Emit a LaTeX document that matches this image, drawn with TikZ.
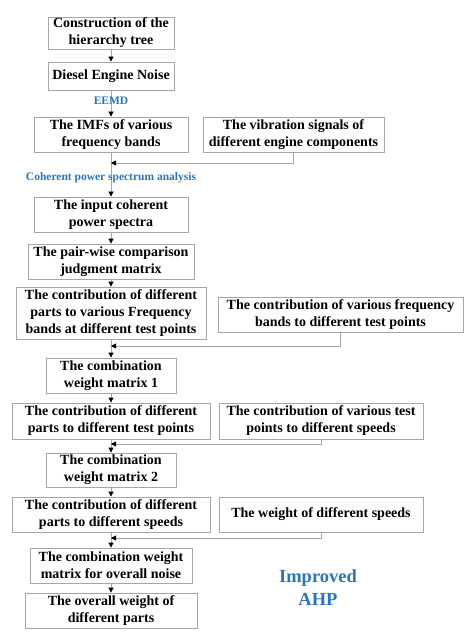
\documentclass[tikz,border=0pt]{standalone}
\usepackage{fontspec}
\setmainfont{Liberation Serif}
\usetikzlibrary{shapes,arrows.meta,positioning}
\definecolor{boxgray}{RGB}{166,166,166}
\definecolor{ahpblue}{RGB}{46,117,182}
\tikzset{
  stage/.style={draw=boxgray,line width=0.8pt,align=center,inner sep=0pt,
    font=\bfseries\fontsize{14}{17}\selectfont},
  flow/.style={draw=boxgray,line width=0.8pt,-{Triangle[black,width=5pt,length=5pt]}},
  join/.style={draw=boxgray,line width=0.8pt},
  steplabel/.style={text=ahpblue,font=\bfseries\fontsize{11.5}{13}\selectfont,inner sep=1pt}
}
\begin{document}
\begin{tikzpicture}[x=1pt,y=-1pt]
\useasboundingbox (0,0) rectangle (474,644);

% main column
\node[stage,minimum width=126pt,minimum height=32pt] (tree) at (111,33) {Construction of the\\hierarchy tree};
\node[stage,minimum width=126pt,minimum height=28pt] (noise) at (111,76) {Diesel Engine Noise};
\node[stage,minimum width=154pt,minimum height=35pt] (imfs) at (111,134.5) {The IMFs of various\\frequency bands};
\node[stage,minimum width=154pt,minimum height=35pt] (spectra) at (111,214.5) {The input coherent\\power spectra};
\node[stage,minimum width=166pt,minimum height=35pt] (pairwise) at (111,261.5) {The pair-wise comparison\\judgment matrix};
\node[stage,minimum width=190pt,minimum height=52pt] (partsband) at (111,313) {The contribution of different\\parts to various Frequency\\bands at different test points};
\node[stage,minimum width=130pt,minimum height=35pt] (comb1) at (111,375.5) {The combination\\weight matrix 1};
\node[stage,minimum width=198pt,minimum height=36pt] (partspoint) at (111,421) {The contribution of different\\parts to different test points};
\node[stage,minimum width=130pt,minimum height=34pt] (comb2) at (111,470) {The combination\\weight matrix 2};
\node[stage,minimum width=198pt,minimum height=35pt] (partsspeed) at (111,514.5) {The contribution of different\\parts to different speeds};
\node[stage,minimum width=162pt,minimum height=35pt] (combnoise) at (111,565.5) {The combination weight\\matrix for overall noise};
\node[stage,minimum width=172pt,minimum height=35pt] (overall) at (111,610.5) {The overall weight of\\different parts};

% side column
\node[stage,minimum width=181pt,minimum height=35pt] (vibration) at (293.5,134.5) {The vibration signals of\\different engine components};
\node[stage,minimum width=245pt,minimum height=35pt] (bandpoint) at (340.5,314.5) {The contribution of various frequency\\bands to different test points};
\node[stage,minimum width=204pt,minimum height=36pt] (pointspeed) at (321,421) {The contribution of various test\\points to different speeds};
\node[stage,minimum width=204pt,minimum height=35pt] (speedweight) at (321,514.5) {The weight of different speeds};

\node[text=ahpblue,align=center,font=\bfseries\fontsize{18.5}{23}\selectfont] (ahp) at (318,588) {Improved\\AHP};

% joining points on the main line
\coordinate (j1) at (111,163);
\coordinate (j2) at (111,346);
\coordinate (j3) at (111,444);
\coordinate (j4) at (111,538);

% main flow
\draw[flow] (tree) -- (noise);
\draw[flow] (noise) -- (imfs) node[steplabel,pos=0.4] (eemd) {EEMD};
\draw[flow] (imfs) -- (spectra) node[steplabel,pos=0.57] (cpsa) {Coherent power spectrum analysis};
\draw[flow] (spectra) -- (pairwise);
\draw[flow] (pairwise) -- (partsband);
\draw[flow] (partsband) -- (comb1);
\draw[flow] (comb1) -- (partspoint);
\draw[flow] (partspoint) -- (comb2);
\draw[flow] (comb2) -- (partsspeed);
\draw[flow] (partsspeed) -- (combnoise);
\draw[flow] (combnoise) -- (overall);

% side inputs
\draw[flow] (vibration.south) |- (j1);
\draw[flow] (bandpoint.south) |- (j2);
\draw[flow] (pointspeed.south) |- (j3);
\draw[flow] (speedweight.south) |- (j4);
\end{tikzpicture}
\end{document}
